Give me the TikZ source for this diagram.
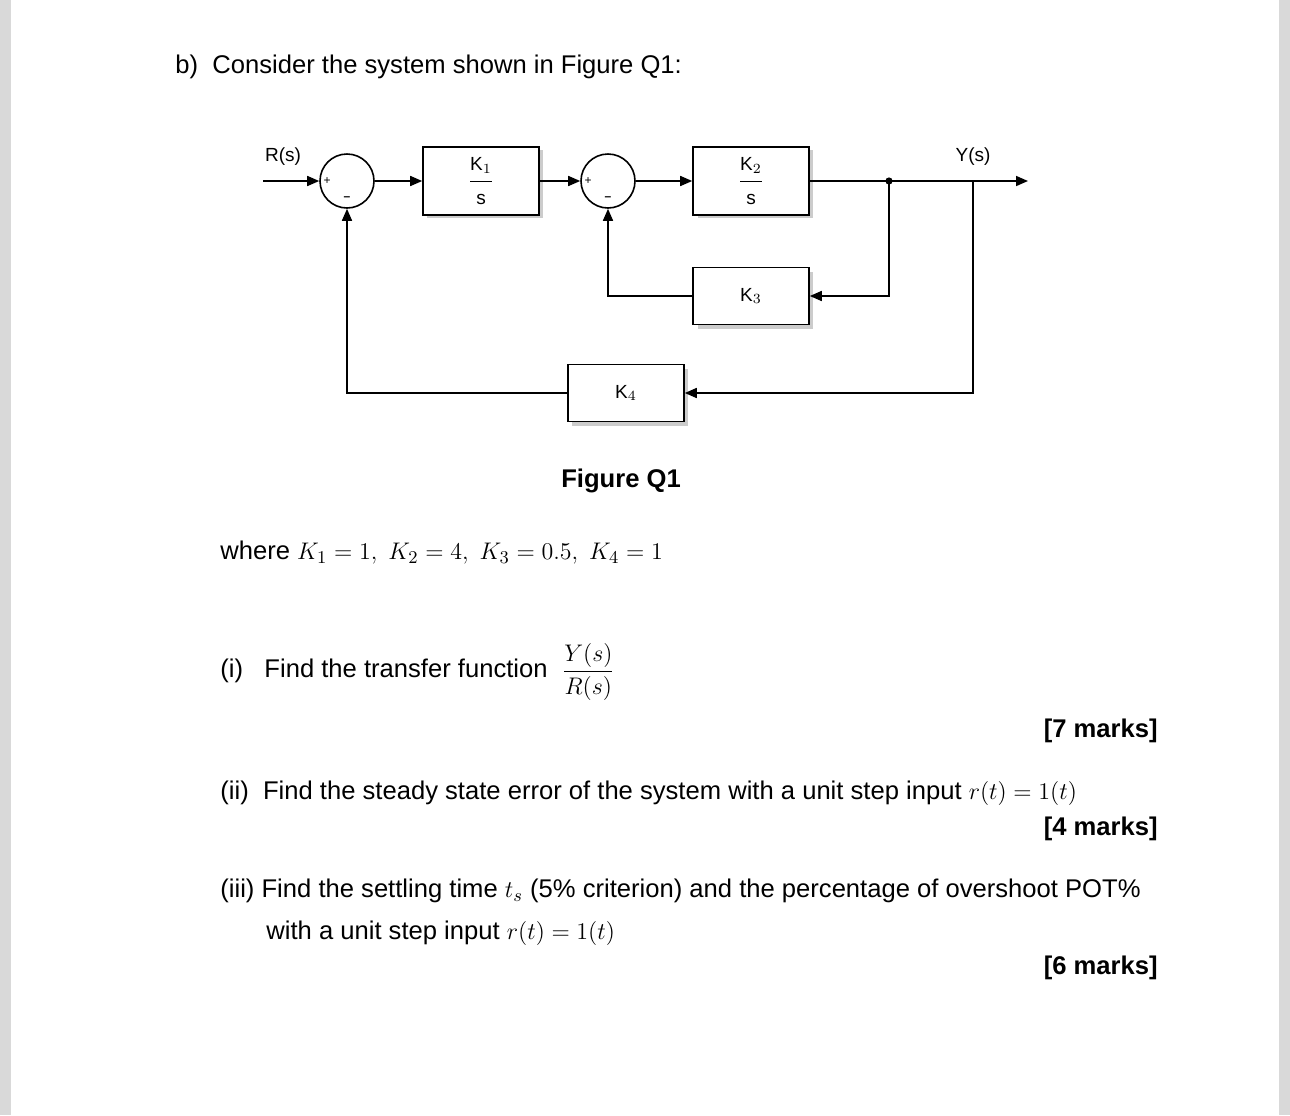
\documentclass[tikz,border=0pt]{standalone}
\usepackage{amsmath}
\usepackage{fontspec}
\setmainfont{Liberation Sans}
\usetikzlibrary{arrows.meta}
\begin{document}
\begin{tikzpicture}[x=0.5pt,y=-0.5pt,
  blk/.style={draw,thick,fill=white,minimum width=58pt,minimum height=34pt,inner sep=0pt},
  sumn/.style={draw,thick,circle,minimum size=27pt,inner sep=0pt},
  arr/.style={thick,-{Triangle[length=6pt,width=5pt]}},
  sm/.style={font=\fontsize{9.5}{10}\selectfont},
  txt/.style={font=\fontsize{12.8}{14}\selectfont,inner sep=0pt,anchor=west}]
\fill[gray!30] (0,0) rectangle (1290,1115);
\fill[white] (11,0) rectangle (1279,1115);
\useasboundingbox (0,0) rectangle (1290,1115);
\node[txt] (t0) at (175,67) {b)\ \ Consider the system shown in Figure Q1:};
% diagram
\node[sumn] (s1) at (347,181) {};
\node[sumn] (s2) at (608,181) {};
\node[font=\fontsize{6}{6}\selectfont] at (327,181) {+};
\node[font=\fontsize{6}{6}\selectfont] at (347,199) {\textbf{–}};
\node[font=\fontsize{6}{6}\selectfont] at (588,181) {+};
\node[font=\fontsize{6}{6}\selectfont] at (608,199) {\textbf{–}};
\fill[gray!40] (427,150) rectangle (543,218);
\node[blk,sm] (k1) at (481,181) {$\dfrac{\raisebox{2pt}{K$_1$}}{\raisebox{-3pt}{s}}$};
\fill[gray!40] (698,150) rectangle (813,218);
\node[blk,sm] (k2) at (751,181) {$\dfrac{\raisebox{2pt}{K$_2$}}{\raisebox{-3pt}{s}}$};
\fill[gray!40] (698,272) rectangle (813,329);
\node[blk,sm,minimum height=28.5pt] (k3) at (751,296) {K$_3$};
\fill[gray!40] (572,369) rectangle (688,426);
\node[blk,sm,minimum height=28.5pt] (k4) at (626,393) {K$_4$};
\coordinate (in) at (263,181);
\coordinate (b1) at (889,181);
\coordinate (b2) at (973,181);
\coordinate (out) at (1028,181);
\node[sm] at (283,157) {R(s)};
\node[sm] at (973,157) {Y(s)};
\draw[arr] (in) -- (s1.west);
\draw[arr] (s1.east) -- (k1.west);
\draw[arr] (k1.east) -- (s2.west);
\draw[arr] (s2.east) -- (k2.west);
\draw[arr] (k2.east) -- (out);
\fill (b1) circle (1.8pt);
\draw[arr] (b1) |- (k3.east);
\draw[arr] (b2) |- (k4.east);
\draw[arr] (k3.west) -| (s2.south);
\draw[arr] (k4.west) -| (s1.south);
\node[font=\fontsize{12.8}{14}\selectfont\bfseries] (fig) at (621,481) {Figure Q1};
\node[txt] (w) at (220,553) {where $K_1=1,\ K_2=4,\ K_3=0.5,\ K_4=1$};
\node[txt] (q1) at (220,672) {(i)\ \ \ Find the transfer function\ \ $\dfrac{Y(s)}{R(s)}$};
\node[txt,anchor=east,font=\fontsize{12.8}{14}\selectfont\bfseries] (m1) at (1158,731) {[7 marks]};
\node[txt] (q2) at (220,793) {(ii)\ \ Find the steady state error of the system with a unit step input $r(t)=1(t)$};
\node[txt,anchor=east,font=\fontsize{12.8}{14}\selectfont\bfseries] (m2) at (1158,829) {[4 marks]};
\node[txt] (q3) at (220,891) {(iii) Find the settling time $t_s$ (5\% criterion) and the percentage of overshoot POT\%};
\node[txt] (q3b) at (266,933) {with a unit step input $r(t)=1(t)$};
\node[txt,anchor=east,font=\fontsize{12.8}{14}\selectfont\bfseries] (m3) at (1158,968) {[6 marks]};
\end{tikzpicture}
\end{document}
